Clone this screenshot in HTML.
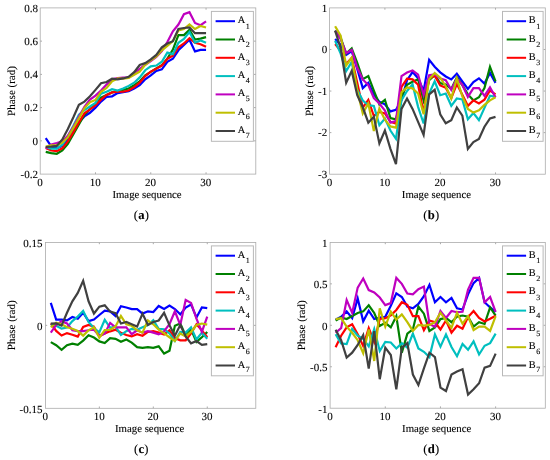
<!DOCTYPE html>
<html><head><meta charset="utf-8"><title>Phase plots</title>
<style>html,body{margin:0;padding:0;background:#fff}svg{display:block;filter:blur(0.35px)}text{text-rendering:geometricPrecision;font-family:"Liberation Serif",serif;fill:#000;stroke:#000;stroke-width:0.1px;paint-order:stroke}</style></head>
<body>
<svg width="550" height="460" viewBox="0 0 550 460" font-size="11">
<rect width="550" height="460" fill="#fff"/>
<g>
<polyline points="45.73,138.10 51.26,146.34 56.78,148.34 62.31,145.85 67.84,139.20 73.37,130.89 78.90,122.25 84.43,116.43 89.95,112.77 95.48,107.62 101.01,101.55 106.54,96.98 112.07,96.32 117.59,93.08 123.12,92.16 128.65,91.17 134.18,88.51 139.71,85.23 145.24,79.37 150.76,75.46 156.29,70.89 161.82,69.39 167.35,61.75 172.88,58.76 178.41,50.33 183.93,45.00 189.46,39.66 194.99,51.39 200.52,49.88 206.05,49.88" fill="none" stroke="#0000ff" stroke-width="2.2" stroke-linejoin="miter" stroke-linecap="butt"/>
<polyline points="45.73,151.83 51.26,153.11 56.78,153.77 62.31,150.50 67.84,143.98 73.37,134.21 78.90,124.41 84.43,114.60 89.95,109.28 95.48,104.30 101.01,97.65 106.54,95.02 112.07,92.41 117.59,91.12 123.12,89.84 128.65,88.51 134.18,85.23 139.71,81.36 145.24,75.44 150.76,71.89 156.29,68.56 161.82,65.24 167.35,58.59 172.88,49.62 178.41,35.16 183.93,35.16 189.46,29.84 194.99,39.64 200.52,38.65 206.05,37.08" fill="none" stroke="#008000" stroke-width="2.2" stroke-linejoin="miter" stroke-linecap="butt"/>
<polyline points="45.73,147.89 51.26,150.50 56.78,151.16 62.31,148.29 67.84,141.36 73.37,132.22 78.90,122.41 84.43,113.32 89.95,109.45 95.48,105.13 101.01,99.64 106.54,95.02 112.07,92.41 117.59,91.76 123.12,91.76 128.65,90.50 134.18,87.18 139.71,82.69 145.24,76.13 150.76,71.65 156.29,68.60 161.82,65.57 167.35,58.76 172.88,55.67 178.41,47.29 183.93,43.47 189.46,38.15 194.99,42.72 200.52,44.23 206.05,46.82" fill="none" stroke="#ff0000" stroke-width="2.2" stroke-linejoin="miter" stroke-linecap="butt"/>
<polyline points="45.73,147.51 51.26,148.54 56.78,148.54 62.31,144.63 67.84,136.16 73.37,125.74 78.90,114.60 84.43,110.11 89.95,106.46 95.48,102.87 101.01,93.73 106.54,91.76 112.07,89.17 117.59,90.50 123.12,88.51 128.65,85.90 134.18,82.69 139.71,77.40 145.24,70.22 150.76,66.32 156.29,65.57 161.82,61.75 167.35,52.61 172.88,54.14 178.41,42.72 183.93,38.91 189.46,32.05 194.99,42.72 200.52,40.48 206.05,42.72" fill="none" stroke="#00bfbf" stroke-width="2.2" stroke-linejoin="miter" stroke-linecap="butt"/>
<polyline points="45.73,148.51 51.26,144.63 56.78,143.07 62.31,141.36 67.84,135.87 73.37,126.73 78.90,116.76 84.43,106.79 89.95,99.64 95.48,95.65 101.01,90.50 106.54,84.58 112.07,79.37 117.59,78.04 123.12,77.70 128.65,77.40 134.18,73.55 139.71,68.90 145.24,64.74 150.76,61.08 156.29,56.93 161.82,51.11 167.35,41.97 172.88,31.33 178.41,24.52 183.93,14.22 189.46,12.22 194.99,22.92 200.52,25.18 206.05,21.40" fill="none" stroke="#bf00bf" stroke-width="2.2" stroke-linejoin="miter" stroke-linecap="butt"/>
<polyline points="45.73,146.68 51.26,145.28 56.78,145.28 62.31,142.69 67.84,137.20 73.37,127.90 78.90,118.42 84.43,108.12 89.95,102.22 95.48,99.97 101.01,91.76 106.54,87.84 112.07,81.36 117.59,78.45 123.12,78.70 128.65,78.04 134.18,74.80 139.71,71.55 145.24,64.82 150.76,60.25 156.29,56.43 161.82,50.33 167.35,45.79 172.88,41.14 178.41,30.50 183.93,29.01 189.46,24.52 194.99,29.01 200.52,26.02 206.05,27.51" fill="none" stroke="#bfbf00" stroke-width="2.2" stroke-linejoin="miter" stroke-linecap="butt"/>
<polyline points="45.73,146.98 51.26,146.59 56.78,145.93 62.31,139.41 67.84,128.98 73.37,117.26 78.90,104.83 84.43,101.64 89.95,96.32 95.48,89.84 101.01,83.27 106.54,82.03 112.07,78.70 117.59,79.37 123.12,78.45 128.65,76.76 134.18,72.22 139.71,65.01 145.24,63.16 150.76,59.47 156.29,54.93 161.82,47.29 167.35,43.47 172.88,41.19 178.41,29.01 183.93,28.01 189.46,27.51 194.99,33.16 200.52,33.16 206.05,33.16" fill="none" stroke="#404040" stroke-width="2.2" stroke-linejoin="miter" stroke-linecap="butt"/>
<rect x="40.2" y="7.9" width="215.60" height="166.20" fill="none" stroke="#ababab" stroke-width="0.8"/>
<text x="40.00" y="185.90" text-anchor="middle">0</text>
<path d="M95.48 174.1v-1.8M95.48 7.9v1.8" stroke="#ababab" stroke-width="1"/>
<text x="95.28" y="185.90" text-anchor="middle">10</text>
<path d="M150.76 174.1v-1.8M150.76 7.9v1.8" stroke="#ababab" stroke-width="1"/>
<text x="150.56" y="185.90" text-anchor="middle">20</text>
<path d="M206.05 174.1v-1.8M206.05 7.9v1.8" stroke="#ababab" stroke-width="1"/>
<text x="205.85" y="185.90" text-anchor="middle">30</text>
<text x="38.00" y="177.80" text-anchor="end">-0.2</text>
<path d="M40.2 140.86h1.8M255.8 140.86h-1.8" stroke="#ababab" stroke-width="1"/>
<text x="38.00" y="144.56" text-anchor="end">0</text>
<path d="M40.2 107.62h1.8M255.8 107.62h-1.8" stroke="#ababab" stroke-width="1"/>
<text x="38.00" y="111.32" text-anchor="end">0.2</text>
<path d="M40.2 74.38h1.8M255.8 74.38h-1.8" stroke="#ababab" stroke-width="1"/>
<text x="38.00" y="78.08" text-anchor="end">0.4</text>
<path d="M40.2 41.14h1.8M255.8 41.14h-1.8" stroke="#ababab" stroke-width="1"/>
<text x="38.00" y="44.84" text-anchor="end">0.6</text>
<text x="38.00" y="11.60" text-anchor="end">0.8</text>
<text x="147.00" y="197.80" text-anchor="middle" font-size="10.8">Image sequence</text>
<text transform="translate(14.80 91.00) rotate(-90)" text-anchor="middle">Phase (rad)</text>
<text x="141.4" y="219.4" text-anchor="middle" font-size="12.6" letter-spacing="0.25">(<tspan font-weight="bold">a</tspan>)</text>
<rect x="211.40" y="11.40" width="42.00" height="129.90" fill="#fff" stroke="#b8b8b8" stroke-width="1"/>
<path d="M215.60 21.20h19.4" stroke="#0000ff" stroke-width="2"/>
<text x="237.70" y="23.20" font-size="10.3">A<tspan dy="5.50" dx="0.5" font-size="8">1</tspan></text>
<path d="M215.60 39.50h19.4" stroke="#008000" stroke-width="2"/>
<text x="237.70" y="41.50" font-size="10.3">A<tspan dy="5.35" dx="0.5" font-size="8">2</tspan></text>
<path d="M215.60 57.80h19.4" stroke="#ff0000" stroke-width="2"/>
<text x="237.70" y="59.80" font-size="10.3">A<tspan dy="5.20" dx="0.5" font-size="8">3</tspan></text>
<path d="M215.60 76.10h19.4" stroke="#00bfbf" stroke-width="2"/>
<text x="237.70" y="78.10" font-size="10.3">A<tspan dy="5.05" dx="0.5" font-size="8">4</tspan></text>
<path d="M215.60 94.40h19.4" stroke="#bf00bf" stroke-width="2"/>
<text x="237.70" y="96.40" font-size="10.3">A<tspan dy="4.90" dx="0.5" font-size="8">5</tspan></text>
<path d="M215.60 112.70h19.4" stroke="#bfbf00" stroke-width="2"/>
<text x="237.70" y="114.70" font-size="10.3">A<tspan dy="4.75" dx="0.5" font-size="8">6</tspan></text>
<path d="M215.60 131.00h19.4" stroke="#404040" stroke-width="2"/>
<text x="237.70" y="133.00" font-size="10.3">A<tspan dy="4.60" dx="0.5" font-size="8">7</tspan></text>
</g>
<g>
<polyline points="335.13,39.08 340.66,44.90 346.19,54.88 351.72,51.14 357.25,69.02 362.78,88.14 368.32,82.94 373.85,94.38 379.38,101.86 384.91,104.35 390.44,111.42 395.97,109.76 401.50,100.20 407.03,80.24 412.56,72.05 418.09,78.16 423.62,91.05 429.15,59.87 434.68,66.73 440.22,72.34 445.75,76.50 451.28,79.41 456.81,73.80 462.34,81.49 467.87,88.97 473.40,82.07 478.93,78.29 484.46,83.57 489.99,72.92 495.52,82.86" fill="none" stroke="#0000ff" stroke-width="2.2" stroke-linejoin="miter" stroke-linecap="butt"/>
<polyline points="335.13,30.56 340.66,37.83 346.19,53.63 351.72,48.44 357.25,62.78 362.78,79.16 368.32,76.08 373.85,90.63 379.38,104.35 384.91,99.78 390.44,118.07 395.97,119.32 401.50,96.45 407.03,84.81 412.56,81.70 418.09,79.20 423.62,100.61 429.15,80.24 434.68,75.25 440.22,83.15 445.75,84.40 451.28,88.97 456.81,77.50 462.34,85.23 467.87,94.38 473.40,100.36 478.93,97.29 484.46,88.14 489.99,66.85 495.52,81.32" fill="none" stroke="#008000" stroke-width="2.2" stroke-linejoin="miter" stroke-linecap="butt"/>
<polyline points="335.13,44.15 340.66,50.72 346.19,64.03 351.72,57.79 357.25,82.73 362.78,107.68 368.32,99.78 373.85,116.00 379.38,111.84 384.91,113.50 390.44,121.82 395.97,123.48 401.50,86.89 407.03,78.58 412.56,79.41 418.09,84.81 423.62,112.67 429.15,78.16 434.68,75.67 440.22,85.44 445.75,87.72 451.28,98.12 456.81,83.98 462.34,94.79 467.87,105.81 473.40,100.36 478.93,103.44 484.46,99.61 489.99,90.47 495.52,94.29" fill="none" stroke="#ff0000" stroke-width="2.2" stroke-linejoin="miter" stroke-linecap="butt"/>
<polyline points="335.13,40.74 340.66,53.63 346.19,71.09 351.72,61.95 357.25,89.80 362.78,100.61 368.32,105.19 373.85,106.02 379.38,125.14 384.91,118.49 390.44,130.55 395.97,138.86 401.50,100.20 407.03,91.05 412.56,84.40 418.09,106.85 423.62,123.48 429.15,93.54 434.68,81.36 440.22,95.21 445.75,93.54 451.28,105.81 456.81,98.53 462.34,99.36 467.87,119.32 473.40,113.08 478.93,120.15 484.46,107.89 489.99,95.79 495.52,96.87" fill="none" stroke="#00bfbf" stroke-width="2.2" stroke-linejoin="miter" stroke-linecap="butt"/>
<polyline points="335.13,30.77 340.66,39.08 346.19,53.22 351.72,49.97 357.25,67.77 362.78,79.41 368.32,85.02 373.85,98.12 379.38,103.52 384.91,110.59 390.44,122.65 395.97,120.98 401.50,76.08 407.03,72.55 412.56,70.47 418.09,74.63 423.62,94.79 429.15,75.25 434.68,74.42 440.22,78.58 445.75,80.24 451.28,89.80 456.81,78.58 462.34,84.81 467.87,96.87 473.40,88.14 478.93,88.14 484.46,95.79 489.99,87.43 495.52,97.29" fill="none" stroke="#bf00bf" stroke-width="2.2" stroke-linejoin="miter" stroke-linecap="butt"/>
<polyline points="335.13,26.19 340.66,35.76 346.19,65.48 351.72,57.79 357.25,90.63 362.78,113.50 368.32,103.52 373.85,130.96 379.38,108.51 384.91,119.74 390.44,126.39 395.97,127.64 401.50,92.30 407.03,87.52 412.56,88.35 418.09,93.54 423.62,114.33 429.15,79.20 434.68,72.96 440.22,77.75 445.75,86.27 451.28,98.53 456.81,78.37 462.34,96.25 467.87,108.93 473.40,112.59 478.93,110.30 484.46,104.94 489.99,100.36 495.52,97.29" fill="none" stroke="#bfbf00" stroke-width="2.2" stroke-linejoin="miter" stroke-linecap="butt"/>
<polyline points="335.13,30.56 340.66,48.23 346.19,82.73 351.72,70.89 357.25,95.21 362.78,107.26 368.32,122.65 373.85,116.83 379.38,143.43 384.91,130.55 390.44,148.84 395.97,164.22 401.50,108.93 407.03,98.53 412.56,108.93 418.09,121.82 423.62,134.91 429.15,94.38 434.68,89.80 440.22,114.33 445.75,123.27 451.28,120.15 456.81,107.47 462.34,115.58 467.87,148.84 473.40,141.98 478.93,138.86 484.46,126.72 489.99,118.36 495.52,116.83" fill="none" stroke="#404040" stroke-width="2.2" stroke-linejoin="miter" stroke-linecap="butt"/>
<rect x="329.6" y="7.9" width="215.70" height="166.30" fill="none" stroke="#ababab" stroke-width="0.8"/>
<text x="329.40" y="186.00" text-anchor="middle">0</text>
<path d="M384.91 174.2v-1.8M384.91 7.9v1.8" stroke="#ababab" stroke-width="1"/>
<text x="384.71" y="186.00" text-anchor="middle">10</text>
<path d="M440.22 174.2v-1.8M440.22 7.9v1.8" stroke="#ababab" stroke-width="1"/>
<text x="440.02" y="186.00" text-anchor="middle">20</text>
<path d="M495.52 174.2v-1.8M495.52 7.9v1.8" stroke="#ababab" stroke-width="1"/>
<text x="495.32" y="186.00" text-anchor="middle">30</text>
<text x="327.20" y="177.90" text-anchor="end">-3</text>
<path d="M329.6 132.62h1.8M545.3 132.62h-1.8" stroke="#ababab" stroke-width="1"/>
<text x="327.20" y="136.32" text-anchor="end">-2</text>
<path d="M329.6 91.05h1.8M545.3 91.05h-1.8" stroke="#ababab" stroke-width="1"/>
<text x="327.20" y="94.75" text-anchor="end">-1</text>
<path d="M329.6 49.47h1.8M545.3 49.47h-1.8" stroke="#ababab" stroke-width="1"/>
<text x="327.20" y="53.17" text-anchor="end">0</text>
<text x="327.20" y="11.60" text-anchor="end">1</text>
<text x="436.45" y="197.90" text-anchor="middle" font-size="10.8">Image sequence</text>
<text transform="translate(312.70 91.05) rotate(-90)" text-anchor="middle">Phase (rad)</text>
<text x="431.3" y="219.4" text-anchor="middle" font-size="12.6" letter-spacing="0.25">(<tspan font-weight="bold">b</tspan>)</text>
<rect x="502.50" y="11.40" width="40.60" height="129.90" fill="#fff" stroke="#b8b8b8" stroke-width="1"/>
<path d="M506.70 21.20h19.4" stroke="#0000ff" stroke-width="2"/>
<text x="528.80" y="23.20" font-size="10.3">B<tspan dy="5.50" dx="0.5" font-size="8">1</tspan></text>
<path d="M506.70 39.50h19.4" stroke="#008000" stroke-width="2"/>
<text x="528.80" y="41.50" font-size="10.3">B<tspan dy="5.35" dx="0.5" font-size="8">2</tspan></text>
<path d="M506.70 57.80h19.4" stroke="#ff0000" stroke-width="2"/>
<text x="528.80" y="59.80" font-size="10.3">B<tspan dy="5.20" dx="0.5" font-size="8">3</tspan></text>
<path d="M506.70 76.10h19.4" stroke="#00bfbf" stroke-width="2"/>
<text x="528.80" y="78.10" font-size="10.3">B<tspan dy="5.05" dx="0.5" font-size="8">4</tspan></text>
<path d="M506.70 94.40h19.4" stroke="#bf00bf" stroke-width="2"/>
<text x="528.80" y="96.40" font-size="10.3">B<tspan dy="4.90" dx="0.5" font-size="8">5</tspan></text>
<path d="M506.70 112.70h19.4" stroke="#bfbf00" stroke-width="2"/>
<text x="528.80" y="114.70" font-size="10.3">B<tspan dy="4.75" dx="0.5" font-size="8">6</tspan></text>
<path d="M506.70 131.00h19.4" stroke="#404040" stroke-width="2"/>
<text x="528.80" y="133.00" font-size="10.3">B<tspan dy="4.60" dx="0.5" font-size="8">7</tspan></text>
</g>
<g>
<polyline points="50.79,302.84 56.19,319.60 61.58,319.60 66.98,320.37 72.37,317.06 77.77,318.82 83.16,312.74 88.56,321.15 93.95,319.60 99.35,315.01 104.74,310.75 110.14,311.30 115.53,315.95 120.93,306.27 126.32,307.49 131.72,309.04 137.11,309.04 142.51,313.63 147.90,311.30 153.30,312.08 158.69,306.00 164.09,309.04 169.48,305.66 174.88,309.04 180.27,314.35 185.67,307.49 191.06,304.45 196.46,317.44 201.85,307.49 207.25,308.21" fill="none" stroke="#0000ff" stroke-width="2.2" stroke-linejoin="miter" stroke-linecap="butt"/>
<polyline points="50.79,342.16 56.19,345.20 61.58,349.74 66.98,345.20 72.37,343.65 77.77,344.87 83.16,340.61 88.56,335.30 93.95,337.57 99.35,341.39 104.74,343.05 110.14,338.18 115.53,338.79 120.93,341.83 126.32,339.51 131.72,342.60 137.11,347.14 142.51,347.91 147.90,347.14 153.30,347.91 158.69,346.36 164.09,353.55 169.48,350.79 174.88,325.79 180.27,323.53 185.67,335.69 191.06,329.61 196.46,341.94 201.85,337.24 207.25,331.93" fill="none" stroke="#008000" stroke-width="2.2" stroke-linejoin="miter" stroke-linecap="butt"/>
<polyline points="50.79,323.41 56.19,330.88 61.58,335.47 66.98,333.09 72.37,334.75 77.77,336.58 83.16,327.01 88.56,325.02 93.95,326.68 99.35,336.41 104.74,333.37 110.14,331.32 115.53,329.77 120.93,332.65 126.32,334.97 131.72,336.41 137.11,334.20 142.51,335.69 147.90,331.93 153.30,331.16 158.69,332.65 164.09,334.47 169.48,330.33 174.88,338.01 180.27,340.28 185.67,340.28 191.06,333.42 196.46,324.24 201.85,330.33 207.25,337.24" fill="none" stroke="#ff0000" stroke-width="2.2" stroke-linejoin="miter" stroke-linecap="butt"/>
<polyline points="50.79,324.24 56.19,325.68 61.58,328.67 66.98,327.56 72.37,321.15 77.77,316.56 83.16,310.92 88.56,321.87 93.95,328.00 99.35,332.26 104.74,319.71 110.14,327.84 115.53,326.57 120.93,334.97 126.32,331.16 131.72,328.83 137.11,329.77 142.51,327.34 147.90,325.02 153.30,320.26 158.69,328.83 164.09,329.22 169.48,333.42 174.88,341.06 180.27,331.99 185.67,332.65 191.06,327.34 196.46,339.51 201.85,332.65 207.25,338.79" fill="none" stroke="#00bfbf" stroke-width="2.2" stroke-linejoin="miter" stroke-linecap="butt"/>
<polyline points="50.79,332.54 56.19,324.96 61.58,321.15 66.98,323.41 72.37,330.27 77.77,331.05 83.16,331.05 88.56,330.27 93.95,329.77 99.35,335.64 104.74,333.64 110.14,322.86 115.53,327.34 120.93,327.34 126.32,327.34 131.72,334.20 137.11,330.33 142.51,332.65 147.90,331.16 153.30,332.65 158.69,334.20 164.09,331.16 169.48,324.24 174.88,311.30 180.27,325.02 185.67,299.91 191.06,302.95 196.46,318.71 201.85,331.93 207.25,316.67" fill="none" stroke="#bf00bf" stroke-width="2.2" stroke-linejoin="miter" stroke-linecap="butt"/>
<polyline points="50.79,327.23 56.19,322.64 61.58,324.24 66.98,327.23 72.37,328.72 77.77,331.05 83.16,335.64 88.56,330.27 93.95,327.23 99.35,337.74 104.74,330.16 110.14,329.77 115.53,326.57 120.93,315.89 126.32,324.24 131.72,325.79 137.11,330.33 142.51,332.65 147.90,320.48 153.30,324.24 158.69,329.61 164.09,333.42 169.48,337.24 174.88,341.06 180.27,333.42 185.67,336.41 191.06,331.93 196.46,325.02 201.85,323.53 207.25,324.58" fill="none" stroke="#bfbf00" stroke-width="2.2" stroke-linejoin="miter" stroke-linecap="butt"/>
<polyline points="50.79,323.69 56.19,323.41 61.58,325.68 66.98,312.74 72.37,301.29 77.77,292.94 83.16,280.72 88.56,301.29 93.95,313.52 99.35,306.66 104.74,305.33 110.14,311.64 115.53,313.29 120.93,323.53 126.32,322.03 131.72,324.24 137.11,326.57 142.51,313.63 147.90,325.02 153.30,322.03 158.69,320.48 164.09,312.85 169.48,325.35 174.88,335.69 180.27,325.02 185.67,336.41 191.06,343.32 196.46,341.06 201.85,344.87 207.25,344.15" fill="none" stroke="#404040" stroke-width="2.2" stroke-linejoin="miter" stroke-linecap="butt"/>
<rect x="45.4" y="242.4" width="210.40" height="165.90" fill="none" stroke="#ababab" stroke-width="0.8"/>
<text x="45.20" y="420.10" text-anchor="middle">0</text>
<path d="M99.35 408.3v-1.8M99.35 242.4v1.8" stroke="#ababab" stroke-width="1"/>
<text x="99.15" y="420.10" text-anchor="middle">10</text>
<path d="M153.30 408.3v-1.8M153.30 242.4v1.8" stroke="#ababab" stroke-width="1"/>
<text x="153.10" y="420.10" text-anchor="middle">20</text>
<path d="M207.25 408.3v-1.8M207.25 242.4v1.8" stroke="#ababab" stroke-width="1"/>
<text x="207.05" y="420.10" text-anchor="middle">30</text>
<text x="42.40" y="412.60" text-anchor="end">-0.15</text>
<path d="M45.4 325.35h1.8M255.8 325.35h-1.8" stroke="#ababab" stroke-width="1"/>
<text x="42.40" y="329.65" text-anchor="end">0</text>
<text x="42.40" y="246.70" text-anchor="end">0.15</text>
<text x="149.60" y="432.00" text-anchor="middle" font-size="10.8">Image sequence</text>
<text transform="translate(14.80 325.35) rotate(-90)" text-anchor="middle">Phase (rad)</text>
<text x="141.4" y="453.4" text-anchor="middle" font-size="12.6" letter-spacing="0.25">(<tspan font-weight="bold">c</tspan>)</text>
<rect x="211.40" y="245.90" width="42.00" height="129.90" fill="#fff" stroke="#b8b8b8" stroke-width="1"/>
<path d="M215.60 255.70h19.4" stroke="#0000ff" stroke-width="2"/>
<text x="237.70" y="257.70" font-size="10.3">A<tspan dy="5.50" dx="0.5" font-size="8">1</tspan></text>
<path d="M215.60 274.00h19.4" stroke="#008000" stroke-width="2"/>
<text x="237.70" y="276.00" font-size="10.3">A<tspan dy="5.35" dx="0.5" font-size="8">2</tspan></text>
<path d="M215.60 292.30h19.4" stroke="#ff0000" stroke-width="2"/>
<text x="237.70" y="294.30" font-size="10.3">A<tspan dy="5.20" dx="0.5" font-size="8">3</tspan></text>
<path d="M215.60 310.60h19.4" stroke="#00bfbf" stroke-width="2"/>
<text x="237.70" y="312.60" font-size="10.3">A<tspan dy="5.05" dx="0.5" font-size="8">4</tspan></text>
<path d="M215.60 328.90h19.4" stroke="#bf00bf" stroke-width="2"/>
<text x="237.70" y="330.90" font-size="10.3">A<tspan dy="4.90" dx="0.5" font-size="8">5</tspan></text>
<path d="M215.60 347.20h19.4" stroke="#bfbf00" stroke-width="2"/>
<text x="237.70" y="349.20" font-size="10.3">A<tspan dy="4.75" dx="0.5" font-size="8">6</tspan></text>
<path d="M215.60 365.50h19.4" stroke="#404040" stroke-width="2"/>
<text x="237.70" y="367.50" font-size="10.3">A<tspan dy="4.60" dx="0.5" font-size="8">7</tspan></text>
</g>
<g>
<polyline points="335.62,319.75 341.14,316.76 346.65,311.37 352.17,318.25 357.69,298.44 363.21,321.32 368.73,310.63 374.24,319.00 379.76,317.51 385.28,316.76 390.80,305.74 396.32,293.38 401.83,297.03 407.35,306.56 412.87,308.31 418.39,303.99 423.91,296.12 429.42,284.84 434.94,302.25 440.46,297.03 445.98,302.25 451.49,297.94 457.01,308.31 462.53,309.55 468.05,294.38 473.57,283.10 479.08,277.88 484.60,302.25 490.12,307.48 495.64,311.79" fill="none" stroke="#0000ff" stroke-width="2.2" stroke-linejoin="miter" stroke-linecap="butt"/>
<polyline points="335.62,320.49 341.14,317.51 346.65,319.00 352.17,315.93 357.69,312.95 363.21,311.37 368.73,305.32 374.24,312.95 379.76,325.88 385.28,322.81 390.80,327.37 396.32,316.18 401.83,352.66 407.35,333.59 412.87,329.44 418.39,306.56 423.91,313.69 429.42,330.94 434.94,327.46 440.46,319.08 445.98,317.92 451.49,322.23 457.01,316.60 462.53,315.52 468.05,316.68 473.57,326.63 479.08,322.23 484.60,323.97 490.12,307.48 495.64,315.68" fill="none" stroke="#008000" stroke-width="2.2" stroke-linejoin="miter" stroke-linecap="butt"/>
<polyline points="335.62,347.19 341.14,335.75 346.65,327.37 352.17,324.31 357.69,334.25 363.21,346.02 368.73,328.12 374.24,341.88 379.76,319.00 385.28,318.25 390.80,315.35 396.32,309.96 401.83,302.25 407.35,304.82 412.87,316.18 418.39,316.18 423.91,330.11 429.42,320.49 434.94,322.23 440.46,329.44 445.98,320.49 451.49,332.76 457.01,325.71 462.53,328.78 468.05,317.01 473.57,310.96 479.08,317.92 484.60,321.40 490.12,318.75 495.64,315.68" fill="none" stroke="#ff0000" stroke-width="2.2" stroke-linejoin="miter" stroke-linecap="butt"/>
<polyline points="335.62,334.25 341.14,343.37 346.65,344.12 352.17,328.95 357.69,335.75 363.21,338.81 368.73,346.44 374.24,328.95 379.76,351.00 385.28,341.88 390.80,342.46 396.32,348.51 401.83,343.12 407.35,347.68 412.87,333.59 418.39,348.43 423.91,351.83 429.42,357.13 434.94,334.42 440.46,346.61 445.98,334.42 451.49,347.02 457.01,356.22 462.53,344.04 468.05,349.76 473.57,341.38 479.08,354.48 484.60,345.78 490.12,343.12 495.64,333.59" fill="none" stroke="#00bfbf" stroke-width="2.2" stroke-linejoin="miter" stroke-linecap="butt"/>
<polyline points="335.62,332.76 341.14,328.12 346.65,299.93 352.17,312.95 357.69,287.58 363.21,278.54 368.73,290.07 374.24,292.55 379.76,297.53 385.28,305.07 390.80,303.08 396.32,277.88 401.83,283.85 407.35,293.55 412.87,294.38 418.39,289.16 423.91,286.59 429.42,323.97 434.94,326.63 440.46,310.96 445.98,317.92 451.49,310.96 457.01,312.20 462.53,311.79 468.05,289.65 473.57,277.88 479.08,277.88 484.60,302.25 490.12,297.03 495.64,311.79" fill="none" stroke="#bf00bf" stroke-width="2.2" stroke-linejoin="miter" stroke-linecap="butt"/>
<polyline points="335.62,319.08 341.14,318.25 346.65,326.63 352.17,332.76 357.69,340.22 363.21,353.24 368.73,329.44 374.24,360.95 379.76,308.31 385.28,326.63 390.80,311.62 396.32,319.66 401.83,314.44 407.35,322.23 412.87,330.94 418.39,324.89 423.91,325.71 429.42,324.89 434.94,322.23 440.46,312.70 445.98,320.49 451.49,327.79 457.01,312.70 462.53,323.64 468.05,316.18 473.57,330.11 479.08,326.63 484.60,326.63 490.12,330.94 495.64,316.18" fill="none" stroke="#bfbf00" stroke-width="2.2" stroke-linejoin="miter" stroke-linecap="butt"/>
<polyline points="335.62,329.69 341.14,340.22 346.65,357.63 352.17,352.66 357.69,344.95 363.21,335.00 368.73,368.66 374.24,331.10 379.76,379.19 385.28,347.68 390.80,354.98 396.32,389.30 401.83,347.52 407.35,343.12 412.87,374.54 418.39,384.99 423.91,368.41 429.42,352.74 434.94,357.13 440.46,387.56 445.98,391.04 451.49,374.54 457.01,371.56 462.53,369.24 468.05,394.52 473.57,389.30 479.08,383.25 484.60,367.58 490.12,365.84 495.64,353.65" fill="none" stroke="#404040" stroke-width="2.2" stroke-linejoin="miter" stroke-linecap="butt"/>
<rect x="330.1" y="242.4" width="215.20" height="165.80" fill="none" stroke="#ababab" stroke-width="0.8"/>
<text x="329.90" y="420.00" text-anchor="middle">0</text>
<path d="M385.28 408.2v-1.8M385.28 242.4v1.8" stroke="#ababab" stroke-width="1"/>
<text x="385.08" y="420.00" text-anchor="middle">10</text>
<path d="M440.46 408.2v-1.8M440.46 242.4v1.8" stroke="#ababab" stroke-width="1"/>
<text x="440.26" y="420.00" text-anchor="middle">20</text>
<path d="M495.64 408.2v-1.8M495.64 242.4v1.8" stroke="#ababab" stroke-width="1"/>
<text x="495.44" y="420.00" text-anchor="middle">30</text>
<text x="327.50" y="412.50" text-anchor="end">-1</text>
<path d="M330.1 366.75h1.8M545.3 366.75h-1.8" stroke="#ababab" stroke-width="1"/>
<text x="327.50" y="371.05" text-anchor="end">-0.5</text>
<path d="M330.1 325.30h1.8M545.3 325.30h-1.8" stroke="#ababab" stroke-width="1"/>
<text x="327.50" y="329.60" text-anchor="end">0</text>
<path d="M330.1 283.85h1.8M545.3 283.85h-1.8" stroke="#ababab" stroke-width="1"/>
<text x="327.50" y="288.15" text-anchor="end">0.5</text>
<text x="327.50" y="246.70" text-anchor="end">1</text>
<text x="436.70" y="431.90" text-anchor="middle" font-size="10.8">Image sequence</text>
<text transform="translate(304.80 325.30) rotate(-90)" text-anchor="middle">Phase (rad)</text>
<text x="431.3" y="453.4" text-anchor="middle" font-size="12.6" letter-spacing="0.25">(<tspan font-weight="bold">d</tspan>)</text>
<rect x="502.50" y="245.90" width="40.60" height="129.90" fill="#fff" stroke="#b8b8b8" stroke-width="1"/>
<path d="M506.70 255.70h19.4" stroke="#0000ff" stroke-width="2"/>
<text x="528.80" y="257.70" font-size="10.3">B<tspan dy="5.50" dx="0.5" font-size="8">1</tspan></text>
<path d="M506.70 274.00h19.4" stroke="#008000" stroke-width="2"/>
<text x="528.80" y="276.00" font-size="10.3">B<tspan dy="5.35" dx="0.5" font-size="8">2</tspan></text>
<path d="M506.70 292.30h19.4" stroke="#ff0000" stroke-width="2"/>
<text x="528.80" y="294.30" font-size="10.3">B<tspan dy="5.20" dx="0.5" font-size="8">3</tspan></text>
<path d="M506.70 310.60h19.4" stroke="#00bfbf" stroke-width="2"/>
<text x="528.80" y="312.60" font-size="10.3">B<tspan dy="5.05" dx="0.5" font-size="8">4</tspan></text>
<path d="M506.70 328.90h19.4" stroke="#bf00bf" stroke-width="2"/>
<text x="528.80" y="330.90" font-size="10.3">B<tspan dy="4.90" dx="0.5" font-size="8">5</tspan></text>
<path d="M506.70 347.20h19.4" stroke="#bfbf00" stroke-width="2"/>
<text x="528.80" y="349.20" font-size="10.3">B<tspan dy="4.75" dx="0.5" font-size="8">6</tspan></text>
<path d="M506.70 365.50h19.4" stroke="#404040" stroke-width="2"/>
<text x="528.80" y="367.50" font-size="10.3">B<tspan dy="4.60" dx="0.5" font-size="8">7</tspan></text>
</g>
</svg></body></html>
